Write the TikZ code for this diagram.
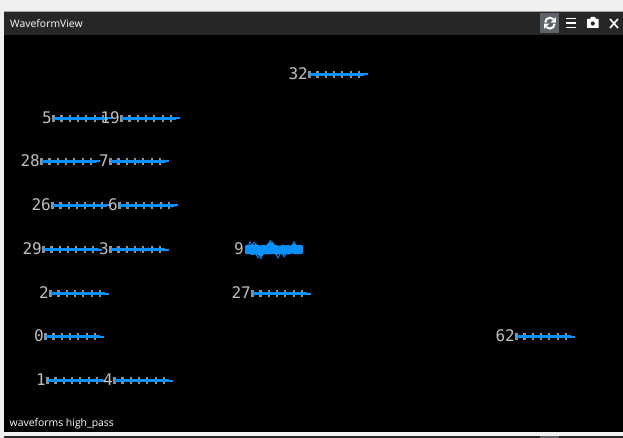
\documentclass[tikz,border=0pt]{standalone}
\usepackage{fontspec}
\usetikzlibrary{arrows.meta}
\setmainfont{Open Sans}
\newfontfamily\digitfont{DejaVu Sans Mono}
\definecolor{frame}{HTML}{F0F0F0}
\definecolor{titlebar}{HTML}{252628}
\definecolor{tracecol}{HTML}{0A90FF}
\definecolor{ticks}{HTML}{8A949E}
\definecolor{lab}{HTML}{BEBEBE}
\definecolor{btn}{HTML}{5F6368}
\tikzset{
  chanlabel/.style={text=lab,font=\digitfont\fontsize{16}{16}\selectfont,anchor=east,inner sep=0pt,text height=11.5pt,text depth=0pt},
  uitext/.style={text=white,font=\fontsize{10.4}{10.4}\selectfont,anchor=west,inner sep=0pt},
  icon/.style={draw=white,line width=1.6pt},
}
% name, x, y, label, jitter
\newcommand\chan[5]{%
  \node[chanlabel] (#1) at (#2-1,#3-.5) {#4};
  \fill[ticks] (#2-1,#3-3.5) rectangle ++(3,7);
  \foreach \k in {1,...,6}{
    \fill[ticks] ({#2+\k*8.3-1},#3-3.5) rectangle ++(2.2,7);
  }
  \draw[tracecol,line width=3pt] (#2+1,#3) -- ++(54,0);
  \draw[tracecol,line width=2pt] (#2+54,#3) -- ++(5,0);
  \draw[tracecol,line width=1pt] plot[samples=55,domain=1:56] ({#2+\x},{#3+#5*rand});
}
\begin{document}
\begin{tikzpicture}[x=1pt,y=-1pt]
\useasboundingbox (0,0) rectangle (623,438);
\fill[frame] (0,0) rectangle (623,438);
\fill[black] (4,35) rectangle (623,432);
\fill[titlebar] (4,12) rectangle (623,35);
\fill[titlebar] (4,436) rectangle (623,438);
\fill[btn] (540,436) rectangle (559,438);
\draw[gray!70,line width=.8pt] (4,11.4) -- (623,11.4);
\node[uitext] (title) at (10,24) {WaveformView};
\node[uitext] (status) at (9.5,423.5) {waveforms high\_pass};
% toolbar
\fill[btn] (540,13) rectangle (559,33);
\draw[white,line width=2pt] (545.2,22.5) arc (180:315:4.8);
\fill[white] (555.8,17.2) -- (555.8,22.6) -- (550.6,22.6) -- cycle;
\draw[white,line width=2pt] (554.6,23.8) arc (0:135:4.8);
\fill[white] (544,29) -- (544,23.6) -- (549.2,23.6) -- cycle;
\draw[icon] (566,18.5) -- (576,18.5) (566,23) -- (576,23) (566,27.5) -- (576,27.5);
\fill[white,even odd rule] (587,19) -- (590,19) -- (591,17) -- (595,17) -- (596,19) -- (598.5,19) -- (598.5,28) -- (587,28) -- cycle
  (592.8,23.5) circle (2.2);
\draw[icon] (610,19) -- (618,28) (618,19) -- (610,28);
% channels
\pgfmathsetseed{4}
\chan{c32}{309}{74.5}{32}{.6}
\chan{c5}{53}{118.5}{5}{.6}
\chan{c19}{121}{118.5}{19}{1}
\chan{c28}{41}{161.5}{28}{.6}
\chan{c7}{110}{161.5}{7}{1.4}
\chan{c26}{52}{205.5}{26}{.7}
\chan{c6}{119}{205.5}{6}{1.5}
\chan{c29}{43}{249.5}{29}{1}
\chan{c3}{110}{249.5}{3}{1.6}
\chan{c2}{50}{293.5}{2}{.8}
\chan{c27}{252}{293.5}{27}{.6}
\chan{c0}{45}{336.5}{0}{1}
\chan{c62}{516}{336.5}{62}{.6}
\chan{c1}{47}{380.5}{1}{1.2}
\chan{c4}{114}{380.5}{4}{1}
% noisy channel 9
\node[chanlabel] (c9) at (244,249) {9};
\fill[tracecol] (245,245.5)
 -- (247,245) -- (249,244.5) -- (251,245) -- (252,243.5) -- (254,245) -- (256,243.5) -- (258,245) -- (260,245.5)
 -- (263,245) -- (266,245) -- (268,243.5) -- (270,242) -- (273,243) -- (275,245) -- (278,245.5) -- (281,245.5)
 -- (283,244.5) -- (285,245.5) -- (288,245) -- (290,245.5) -- (292,245) -- (294,243.5) -- (296,245) -- (299,245) -- (303,245.5)
 -- (303,253.5) -- (300,254) -- (297,254) -- (295,254) -- (292,253.5) -- (288,254.5) -- (285,254) -- (283,255.5) -- (281,254)
 -- (278,254) -- (276,255) -- (274,254) -- (270,254) -- (267,254.5) -- (264,254) -- (262,256) -- (260,256) -- (258,255)
 -- (255,254.5) -- (252,255) -- (250,254) -- (247,254) -- (245,253.5) -- cycle;
\draw[tracecol,line width=.7pt] (249,245) -- (250,241.5) -- (252,245) -- (254,242) -- (256,245) (268,245) -- (270,240.5) -- (272,241.5) -- (274,245) (292,245) -- (294,241.5) -- (296,245)
 (256,254) -- (258,258) -- (260,255) -- (261,259) -- (263,254) (276,254) -- (278,258) -- (280,254) (283,254) -- (284,257) -- (286,254);
\end{tikzpicture}
\end{document}
